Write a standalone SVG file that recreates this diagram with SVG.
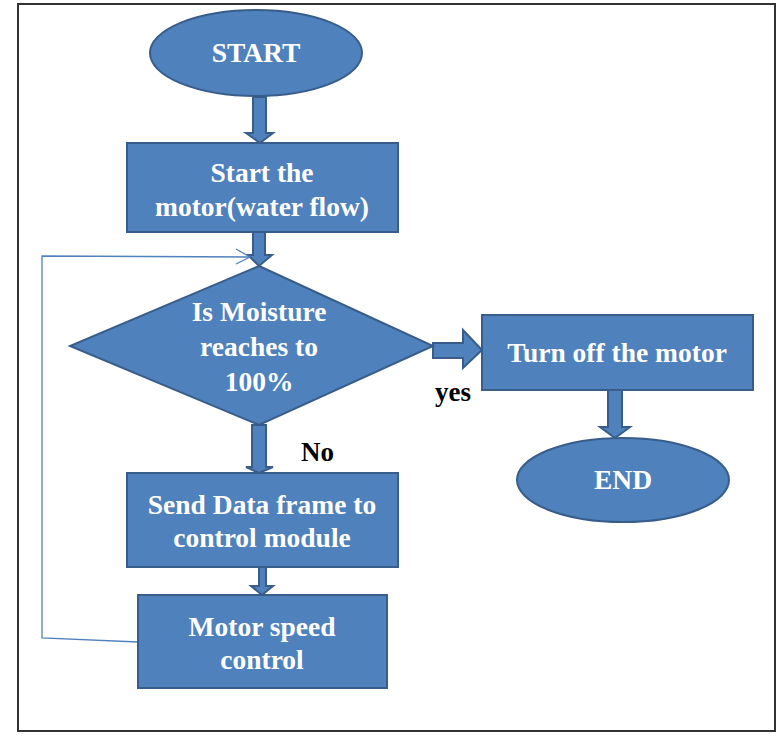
<svg xmlns="http://www.w3.org/2000/svg" width="781" height="742" viewBox="0 0 781 742">
<style>
.shape{fill:#4F81BD;stroke:#385D8A;stroke-width:2}
.t{font-family:"Liberation Serif","Times New Roman",serif;font-weight:bold;font-size:27.5px;fill:#FFFFFF;text-anchor:middle}
.lbl{font-family:"Liberation Serif","Times New Roman",serif;font-weight:bold;font-size:27px;fill:#000000}
.thin{fill:none;stroke:#4F81BD;stroke-width:1.3}
</style>
<rect x="18" y="4" width="757" height="727" fill="#FFFFFF" stroke="#333333" stroke-width="2"/>
<g id="connectors">
<polygon class="shape" points="253,97 266,97 266,133 273,133 260,143 246,133 253,133"/>
<polygon class="shape" points="253,232 265,232 265,255 272,255 259,266 248,255 253,255"/>
<polygon class="shape" points="252,425 266,425 266,467 273,467 259,473 246,467 252,467"/>
<polygon class="shape" points="259,567 266,567 266,586 273,586 262,595 251,586 259,586"/>
<polygon class="shape" points="433,343 463,343 463,330 482,350 463,368 463,358 433,358"/>
<polygon class="shape" points="608,390 622,390 622,427 630,427 615,438 600,427 608,427"/>
<polyline class="thin" points="138,642 42,638 42,256 250,257"/>
<polyline class="thin" points="236,249 250,257 236,264"/>
<text class="lbl" x="435" y="401">yes</text>
<text class="lbl" x="301" y="461">No</text>
</g>
<g id="start">
<ellipse class="shape" cx="256" cy="53" rx="106" ry="43"/>
<text class="t" x="256" y="62">START</text>
</g>
<g id="start-motor">
<rect class="shape" x="127" y="143" width="271" height="89"/>
<text class="t" x="262" y="182">Start the</text>
<text class="t" x="262" y="216">motor(water flow)</text>
</g>
<g id="decision">
<polygon class="shape" points="259,266 433,346 259,425 70,346"/>
<text class="t" x="259" y="321">Is Moisture</text>
<text class="t" x="259" y="356">reaches to</text>
<text class="t" x="259" y="391">100%</text>
</g>
<g id="send-data">
<rect class="shape" x="127" y="473" width="271" height="94"/>
<text class="t" x="262" y="514">Send Data frame to</text>
<text class="t" x="262" y="547">control module</text>
</g>
<g id="motor-speed">
<rect class="shape" x="138" y="595" width="249" height="93"/>
<text class="t" x="262" y="636">Motor speed</text>
<text class="t" x="262" y="669">control</text>
</g>
<g id="turn-off">
<rect class="shape" x="482" y="315" width="271" height="75"/>
<text class="t" x="617" y="362">Turn off the motor</text>
</g>
<g id="end">
<ellipse class="shape" cx="623" cy="480" rx="106" ry="42"/>
<text class="t" x="623" y="489">END</text>
</g>
</svg>
